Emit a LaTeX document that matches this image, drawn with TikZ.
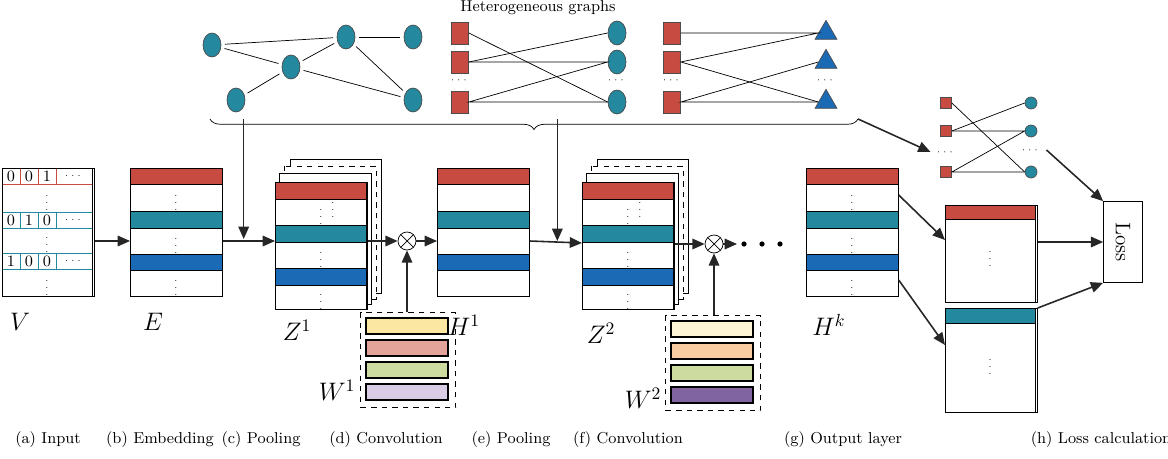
\documentclass[tikz,border=0pt]{standalone}
\usepackage{amsmath}
\usetikzlibrary{arrows.meta,positioning,shapes.geometric,decorations.pathreplacing}
\definecolor{cred}{HTML}{C84B42}
\definecolor{cteal}{HTML}{24889E}
\definecolor{cblue}{HTML}{1A6AB5}
\tikzset{
  mat/.style={draw, minimum width=1.84cm, minimum height=2.56cm, inner sep=0pt},
  arr/.style={-{Triangle[length=7pt,width=6pt]}, line width=0.9pt, black!85},
  gc/.style={draw=black!70, ellipse, fill=cteal, minimum width=0.36cm, minimum height=0.48cm, inner sep=0pt},
  gs/.style={draw=black!70, rectangle, fill=cred, minimum width=0.34cm, minimum height=0.44cm, inner sep=0pt},
  gt/.style={draw=black!70, isosceles triangle, isosceles triangle apex angle=60, shape border rotate=90, fill=cblue, minimum height=0.38cm, inner sep=0pt},
  sq/.style={draw=black!70, rectangle, fill=cred, minimum size=0.22cm, inner sep=0pt},
  sc/.style={draw=black!70, circle, fill=cteal, minimum size=0.24cm, inner sep=0pt},
  vd/.style={font=\tiny, inner sep=0pt},
  lab/.style={font=\Large\itshape},
  captext/.style={font=\small}
}
\begin{document}
\begin{tikzpicture}[x=0.02cm, y=-0.02cm]
\useasboundingbox (0,0) rectangle (1168,459);
% top graphs
\node[font=\small] (title) at (538,8) {Heterogeneous graphs};
\node[gc] (g1) at (212,45) {};
\node[gc] (g2) at (291,67) {};
\node[gc] (g3) at (236,100) {};
\node[gc] (g4) at (346,37) {};
\node[gc] (g5) at (413,37) {};
\node[gc] (g6) at (413,100) {};
\foreach \a/\b in {g1/g4,g1/g2,g2/g4,g2/g3,g4/g5,g4/g6,g2/g6}
  \draw[shorten <=2pt, shorten >=2pt] (\a) -- (\b);
\foreach \i/\y in {1/33,2/62,3/102}{
  \node[gs] (sa\i) at (460,\y) {};
  \node[gc] (ca\i) at (617,\y) {};
  \node[gs] (sb\i) at (672,\y) {};
  \node[gt] (tb\i) at (826,\y) {};
}
\foreach \x in {460,617,672,826}
  \node[font=\tiny] at (\x,80) {$\cdots$};
\draw (sa1.east) -- (ca3.west);
\draw (sa2.east) -- (ca1.west);
\draw (sa2.east) -- (ca2.west) -- (sa3.east) -- (ca3.west);
\draw (sb1.east) -- (tb1.west) -- (sb2.east) -- (tb3.west);
\draw (tb2.west) -- (sb3.east) -- (tb3.west);
\draw[decorate, decoration={brace, mirror, amplitude=6pt}] (210,119) -- (858,119)
  coordinate[pos=0.052] (b1) coordinate[pos=0.536] (b2) coordinate (b3);
% matrices
\node[mat, anchor=north west] (V) at (2,168) {};
\foreach \y/\c/\r in {168/cred/1, 212/cteal/2, 253/cteal/3}{
  \draw[\c] (2,\y) rectangle (92,\y+16);
  \foreach \x in {20,38,56} \draw[\c] (\x,\y) -- (\x,\y+16);
}
\foreach \t/\y in {{0,0,1}/176,{0,1,0}/220,{1,0,0}/261}{
  \foreach \v [count=\k] in \t
    \node[font=\small, inner sep=0pt] at (-7+18*\k,\y) {\v};
  \node[font=\tiny] at (74,\y) {$\dots$};
}
\foreach \y in {198,240,283} \node[vd] at (47,\y) {$\vdots$};
\draw (2,168) rectangle (92,296);
% E, H1, Hk
\foreach \n/\x/\d in {E/130/1, H1/437/0, Hk/806/1}{
  \node[mat, anchor=north west] (\n) at (\x,168) {};
  \fill[cred] (\x,168) rectangle (\x+92,184);
  \fill[cteal] (\x,211) rectangle (\x+92,228);
  \fill[cblue] (\x,254) rectangle (\x+92,270);
  \foreach \y in {184,211,228,254,270} \draw (\x,\y) -- (\x+92,\y);
  \ifnum\d=1 \foreach \y in {198,241,283} \node[vd] at (\x+46,\y) {$\vdots$}; \fi
  \draw (\x,168) rectangle (\x+92,296);
}
% Z1, Z2
\foreach \n/\x in {Z1/275, Z2/582}{
  \draw[fill=white] (\x+15,159) rectangle (\x+106,293);
  \draw[fill=white, dashed] (\x+9,166) rectangle (\x+101,299);
  \draw[fill=white] (\x+4,173) rectangle (\x+96,304);
  \node[mat, anchor=north west, minimum height=2.54cm, fill=white] (\n) at (\x,182) {};
  \fill[cred] (\x,182) rectangle (\x+91,199);
  \fill[cteal] (\x,225) rectangle (\x+91,242);
  \fill[cblue] (\x,268) rectangle (\x+91,285);
  \foreach \y in {199,225,242,268,285} \draw (\x,\y) -- (\x+91,\y);
  \foreach \y in {212,255,297} \node[vd] at (\x+46,\y) {$\vdots$};
  \node[vd] at (\x+58,205) {$\vdots$};
  \draw (\x,182) rectangle (\x+91,309);
}
% weights
\node[draw, dashed, thick, minimum width=1.9cm, minimum height=1.9cm, anchor=north west] (W1) at (360,312) {};
\foreach \y/\c in {318/FBE7A1, 340/E3A29A, 362/CEDBA0, 384/D9CCE5}{
  \definecolor{wc}{HTML}{\c}
  \draw[thick, fill=wc] (366,\y) rectangle (448,\y+16);
}
\node[draw, dashed, thick, minimum width=1.9cm, minimum height=1.9cm, anchor=north west] (W2) at (665,315) {};
\foreach \y/\c in {321/FDF3D5, 343/F9CBA0, 365/CEDBA0, 387/8064A2}{
  \definecolor{wc}{HTML}{\c}
  \draw[thick, fill=wc] (671,\y) rectangle (753,\y+16);
}
\node[draw, circle, minimum size=0.36cm, inner sep=0pt] (m1) at (407,241) {};
\draw (m1.north west) -- (m1.south east) (m1.north east) -- (m1.south west);
\node[draw, circle, minimum size=0.36cm, inner sep=0pt] (m2) at (714,244) {};
\draw (m2.north west) -- (m2.south east) (m2.north east) -- (m2.south west);
\foreach \x in {744,762,780} \fill (\x,244) circle (2.6);
\coordinate (dots) at (737,244);
% labels
\node[lab] at (20,322) {$V$};
\node[lab] at (153,322) {$E$};
\node[lab] at (297,330) {$Z^{1}$};
\node[lab] at (464,325) {$H^{1}$};
\node[lab] at (601,333) {$Z^{2}$};
\node[lab] at (337,390) {$W^{1}$};
\node[lab] at (643,398) {$W^{2}$};
\node[lab] at (829,325) {$H^{k}$};
% output
\node[mat, anchor=north west, minimum height=1.94cm] (O1) at (945,205) {};
\fill[cred] (945,205) rectangle (1035,219); \draw (945,205) rectangle (1035,302) (945,219) -- (1035,219);
\node[vd] at (990,254) {$\vdots$};
\node[mat, anchor=north west, minimum height=2.08cm] (O2) at (945,308) {};
\fill[cteal] (945,308) rectangle (1035,323); \draw (945,308) rectangle (1035,412) (945,323) -- (1035,323);
\node[vd] at (990,362) {$\vdots$};
\node[draw, minimum width=0.78cm, minimum height=1.62cm, inner sep=0pt] (loss) at (1123,242)
  {\rotatebox{-90}{\large Loss}};
% small graph
\foreach \i/\y in {1/103,2/131,3/172}{
  \node[sq] (q\i) at (946,\y) {};
  \node[sc] (k\i) at (1031,\y) {};
}
\node[font=\tiny] (qd) at (946,152) {$\cdots$};
\node[font=\tiny] (kd) at (1031,150) {$\cdots$};
\draw (q1.east) -- (k3.west);
\draw (q2.east) -- (k1.west);
\draw (q2.east) -- (k2.west) -- (q3.east) -- (k3.west);
% connectors
\draw[arr] (V.east|-0,241) -- (E.west|-0,241);
\draw[arr] (E.east|-0,241) -- (Z1.west|-0,241);
\draw[arr] (b1) -- (b1|-0,239);
\draw[arr] (Z1.east|-m1) -- (m1);
\draw[arr] (m1) -- (H1.west|-m1);
\draw[arr] (W1.north-|m1) -- (m1);
\draw[arr] (H1.east|-0,241) -- (Z2.west|-0,243);
\draw[arr] (b2) -- (b2|-0,241);
\draw[arr] (Z2.east|-m2) -- (m2);
\draw[arr] (m2) -- (dots);
\draw[arr] (W2.north-|m2) -- (m2);
\draw[arr] (Hk.east|-0,195) -- (O1.west|-0,240);
\draw[arr] (Hk.east|-0,280) -- (O2.west|-0,345);
\draw[arr] (b3) -- (qd.west);
\draw[arr] (kd.east) -- (loss.north west);
\draw[arr] (O1.east|-loss) -- (loss.west);
\draw[arr] (O2.north east) -- (loss.south west);
% captions
\foreach \x/\t in {48/(a) Input, 160/(b) Embedding, 261/(c) Pooling, 386/(d) Convolution,
  511/(e) Pooling, 628/(f) Convolution, 843/(g) Output layer, 1101/(h) Loss calculation}
  \node[captext] at (\x,440) {\t};
\end{tikzpicture}
\end{document}
